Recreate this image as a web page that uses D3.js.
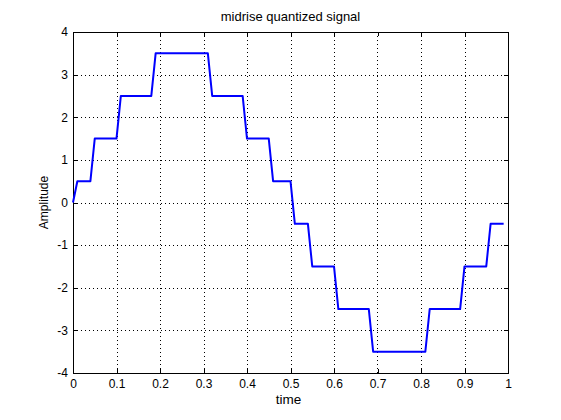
<!DOCTYPE html>
<html><head><meta charset="utf-8">
<script src="https://cdn.jsdelivr.net/npm/d3@7/dist/d3.min.js"></script>
<style>body{margin:0;background:#fff}svg{display:block}</style>
</head><body><svg id="c" width="561" height="420"></svg>
<script>
const time = [0, 0.01, 0.04, 0.05, 0.10, 0.11, 0.18, 0.19, 0.31, 0.32, 0.39, 0.40, 0.45, 0.46, 0.50, 0.51, 0.54, 0.55, 0.60, 0.61, 0.68, 0.69, 0.81, 0.82, 0.89, 0.90, 0.95, 0.96, 0.99];
const amplitude = [0, 0.5, 0.5, 1.5, 1.5, 2.5, 2.5, 3.5, 3.5, 2.5, 2.5, 1.5, 1.5, 0.5, 0.5, -0.5, -0.5, -1.5, -1.5, -2.5, -2.5, -3.5, -3.5, -2.5, -2.5, -1.5, -1.5, -0.5, -0.5];
const xTicks = [0, 0.1, 0.2, 0.3, 0.4, 0.5, 0.6, 0.7, 0.8, 0.9, 1];
const xTickLabels = ["0", "0.1", "0.2", "0.3", "0.4", "0.5", "0.6", "0.7", "0.8", "0.9", "1"];
const yTicks = [-4, -3, -2, -1, 0, 1, 2, 3, 4];
const yTickLabels = ["-4", "-3", "-2", "-1", "0", "1", "2", "3", "4"];
const titleText = "midrise quantized signal";
const xLabelText = "time";
const yLabelText = "Amplitude";

const W = 561, H = 420;
const m = {left: 73, top: 32, right: 53, bottom: 47};
const x0 = m.left, x1 = W - m.right, y0 = m.top, y1 = H - m.bottom;
const font = "'Liberation Sans', Arial, Helvetica, sans-serif";

const svg = d3.select("#c");
svg.append("rect").attr("width", W).attr("height", H).attr("fill", "#fff");

const x = d3.scaleLinear().domain([0, 1]).range([x0, x1]);
const y = d3.scaleLinear().domain([-4, 4]).range([y1, y0]);

// grid
const grid = svg.append("g").attr("stroke", "#000").attr("stroke-width", 1).attr("stroke-dasharray", "1,3").attr("shape-rendering", "crispEdges");
grid.selectAll(".gx").data(xTicks.slice(1, -1)).join("line")
  .attr("x1", d => Math.round(x(d)) + 0.5).attr("x2", d => Math.round(x(d)) + 0.5)
  .attr("y1", y1).attr("y2", y0);
grid.selectAll(".gy").data(yTicks.slice(1, -1)).join("line")
  .attr("y1", d => Math.round(y(d)) + 0.5).attr("y2", d => Math.round(y(d)) + 0.5)
  .attr("x1", x0).attr("x2", x1);

// axes
const tick = 4;
const fmtX = d => xTickLabels[xTicks.indexOf(d)];
const fmtY = d => yTickLabels[yTicks.indexOf(d)];
function style(g) {
  g.attr("font-family", font).attr("font-size", 12);
  g.selectAll("path,line").attr("stroke", "#000").attr("shape-rendering", "crispEdges");
  g.selectAll("text").attr("fill", "#000");
}
svg.append("g").attr("transform", `translate(0,${y1})`)
  .call(d3.axisBottom(x).tickValues(xTicks).tickFormat(fmtX).tickSizeInner(-tick).tickSizeOuter(0).tickPadding(6)).call(style);
svg.append("g").attr("transform", `translate(0,${y0})`)
  .call(d3.axisTop(x).tickValues(xTicks).tickFormat("").tickSizeInner(-tick).tickSizeOuter(0)).call(style);
svg.append("g").attr("transform", `translate(${x0},0)`)
  .call(d3.axisLeft(y).tickValues(yTicks).tickFormat(fmtY).tickSizeInner(-tick).tickSizeOuter(0).tickPadding(5)).call(style);
svg.append("g").attr("transform", `translate(${x1},0)`)
  .call(d3.axisRight(y).tickValues(yTicks).tickFormat("").tickSizeInner(-tick).tickSizeOuter(0)).call(style);

// data line
const pts = time.map((t, i) => [t, amplitude[i]]);
svg.append("path").datum(pts)
  .attr("fill", "none").attr("stroke", "#0000ff").attr("stroke-width", 2)
  .attr("stroke-linejoin", "round")
  .attr("d", d3.line().x(d => x(d[0])).y(d => y(d[1])));

// texts
svg.append("text").attr("x", (x0 + x1) / 2).attr("y", 21).attr("text-anchor", "middle")
  .attr("font-family", font).attr("font-size", 13).text(titleText);
svg.append("text").attr("x", (x0 + x1) / 2 - 2).attr("y", 404).attr("text-anchor", "middle")
  .attr("font-family", font).attr("font-size", 13.5).text(xLabelText);
svg.append("text").attr("transform", `translate(48,${(y0 + y1) / 2}) rotate(-90)`).attr("text-anchor", "middle")
  .attr("font-family", font).attr("font-size", 12).text(yLabelText);
</script>
</body></html>
